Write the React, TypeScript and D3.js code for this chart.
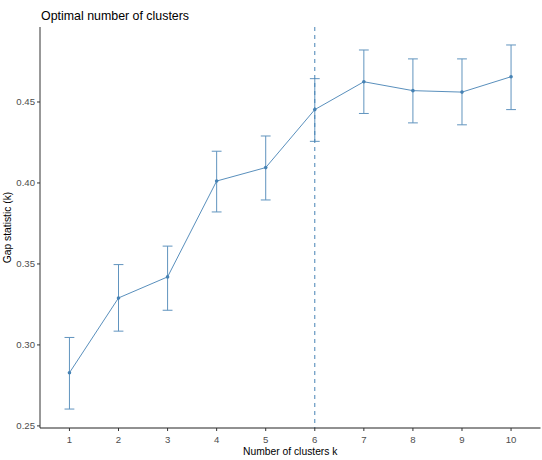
import React from "react";
import * as d3 from "d3";

const ks = [1, 2, 3, 4, 5, 6, 7, 8, 9, 10];
const gap = [0.2828, 0.329, 0.342, 0.4012, 0.4095, 0.4453, 0.4625, 0.457, 0.4561, 0.4656];
const gapLow = [0.2604, 0.3085, 0.3214, 0.3821, 0.3895, 0.4257, 0.4429, 0.4371, 0.4359, 0.4453];
const gapHigh = [0.3046, 0.3496, 0.361, 0.4196, 0.429, 0.4644, 0.4821, 0.4766, 0.4766, 0.4852];
const yTicks = [0.25, 0.3, 0.35, 0.4, 0.45];
const optimalK = 6;

const W = 542;
const H = 460;
const left = 40;
const right = 540.5;
const top = 27;
const bottom = 428;
const color = "steelblue";
const font = "'Liberation Sans', Arial, sans-serif";

export default function App() {
  const x = d3.scaleLinear().domain([0.4, 10.6]).range([left, right]);
  const y = d3.scaleLinear().domain([0.2487, 0.4963]).range([bottom, top]);
  const line = d3
    .line<number>()
    .x((_, i) => x(ks[i]))
    .y((d) => y(d));
  const cap = x(1.1) - x(1);
  return (
    <svg
      width={W}
      height={H}
      style={{ position: "absolute", left: 0, top: 0, background: "#fff" }}
      fontFamily={font}
    >
      <rect width={W} height={H} fill="#fff" />
      <text x={41} y={20} fontSize={12.4} fill="#000">
        Optimal number of clusters
      </text>
      {/* vline */}
      <line
        x1={x(optimalK)}
        x2={x(optimalK)}
        y1={top}
        y2={bottom}
        stroke={color}
        strokeWidth={1}
        strokeDasharray="4,4"
      />
      {/* error bars */}
      {ks.map((k, i) => (
        <g key={k} stroke={color} strokeWidth={1} opacity={0.85}>
          <line x1={x(k)} x2={x(k)} y1={y(gapLow[i])} y2={y(gapHigh[i])} />
          <line x1={x(k) - cap} x2={x(k) + cap} y1={y(gapLow[i])} y2={y(gapLow[i])} />
          <line x1={x(k) - cap} x2={x(k) + cap} y1={y(gapHigh[i])} y2={y(gapHigh[i])} />
        </g>
      ))}
      <path d={line(gap) || ""} fill="none" stroke={color} strokeWidth={0.9} />
      {ks.map((k, i) => (
        <circle key={k} cx={x(k)} cy={y(gap[i])} r={1.8} fill={color} />
      ))}
      {/* axes */}
      <line x1={left} x2={left} y1={top} y2={bottom} stroke="#333" strokeWidth={1} />
      <line x1={left} x2={right} y1={bottom} y2={bottom} stroke="#222" strokeWidth={1} />
      {yTicks.map((t) => (
        <g key={t}>
          <line x1={left - 3} x2={left} y1={y(t)} y2={y(t)} stroke="#333" />
          <text
            x={left - 5}
            y={y(t)}
            dy="0.35em"
            textAnchor="end"
            fontSize={9.6}
            fill="#4d4d4d"
          >
            {t.toFixed(2)}
          </text>
        </g>
      ))}
      {ks.map((k) => (
        <g key={k}>
          <line x1={x(k)} x2={x(k)} y1={bottom} y2={bottom + 3} stroke="#333" />
          <text x={x(k)} y={bottom + 15} textAnchor="middle" fontSize={9.6} fill="#4d4d4d">
            {k}
          </text>
        </g>
      ))}
      <text x={(left + right) / 2} y={455} textAnchor="middle" fontSize={10.3} fill="#000">
        Number of clusters k
      </text>
      <text
        transform={`translate(11, ${(top + bottom) / 2}) rotate(-90)`}
        textAnchor="middle"
        fontSize={10.3}
        fill="#000"
      >
        Gap statistic (k)
      </text>
    </svg>
  );
}
